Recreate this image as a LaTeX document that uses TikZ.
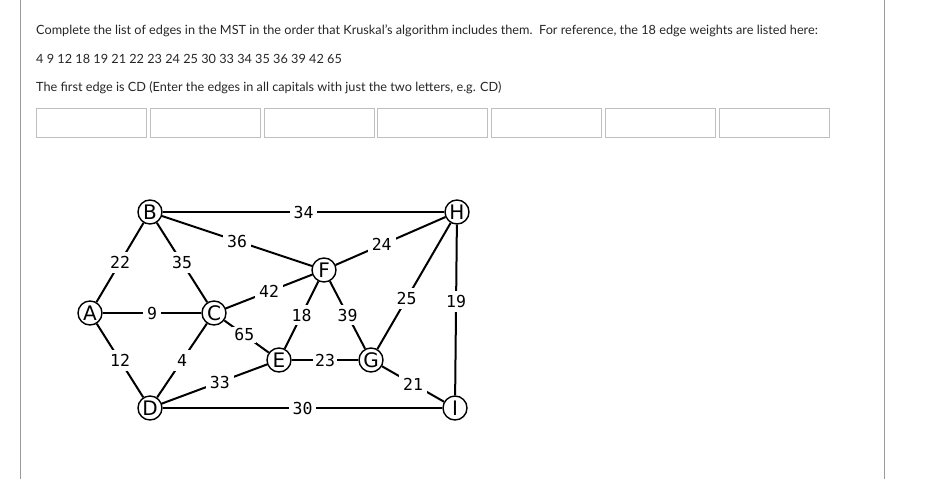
\documentclass[tikz,border=0pt]{standalone}
\usepackage{fontspec}
\setmainfont{Lato}
\newfontfamily\monof{DejaVu Sans Mono}
\newfontfamily\nodef{DejaVu Sans}
\begin{document}
\begin{tikzpicture}[x=1pt,y=-1pt,
  vert/.style={circle,draw,line width=1.4pt,minimum size=24pt,inner sep=0pt,font=\nodef\fontsize{20}{20}\selectfont,fill=white},
  lbl/.style={fill=white,inner sep=4pt,font=\monof\fontsize{16.5}{16.5}\selectfont},
  edge/.style={line width=2pt},
  ans/.style={draw=black!25,line width=0.8pt,minimum width=110pt,minimum height=29pt,inner sep=0pt},
  txt/.style={anchor=west,inner sep=0pt,font=\fontsize{12.7}{13}\selectfont,text=black!85}]
\useasboundingbox (0,0) rectangle (936,479);
\draw[black!40,line width=0.8pt] (20,0) -- (20,479);
\draw[black!40,line width=0.8pt] (884,0) -- (884,479);
\node[txt] (t1) at (36,31) {Complete the list of edges in the MST in the order that Kruskal's algorithm includes them.\ \ For reference, the 18 edge weights are listed here:};
\node[txt] (t2) at (36,59) {4 9 12 18 19 21 22 23 24 25 30 33 34 35 36 39 42 65};
\node[txt] (t3) at (36,88) {The first edge is CD (Enter the edges in all capitals with just the two letters, e.g. CD)};
\foreach \i/\x in {1/91.5,2/205.5,3/319.5,4/432.5,5/546.5,6/660.5,7/774}
  \node[ans] (box\i) at (\x,123) {};
\node[vert] (B) at (150,212) {B};
\node[vert] (H) at (457,212) {H};
\node[vert] (A) at (90,313) {A};
\node[vert] (C) at (214,313) {C};
\node[vert] (F) at (324,270) {F};
\node[vert] (E) at (279,360) {E};
\node[vert] (G) at (371,360) {G};
\node[vert] (D) at (150,408) {D};
\node[vert] (I) at (455,408) {I};
\draw[edge] (B) -- node[lbl,pos=0.5]{34} (H);
\draw[edge] (B) -- node[lbl,pos=0.5]{36} (F);
\draw[edge] (F) -- node[lbl,pos=0.42]{24} (H);
\draw[edge] (A) -- node[lbl,pos=0.5]{22} (B);
\draw[edge] (B) -- node[lbl,pos=0.5]{35} (C);
\draw[edge] (C) -- node[lbl,pos=0.5]{42} (F);
\draw[edge] (A) -- node[lbl,pos=0.5]{9} (C);
\draw[edge] (E) -- node[lbl,pos=0.5]{18} (F);
\draw[edge] (F) -- node[lbl,pos=0.5]{39} (G);
\draw[edge] (G) -- node[lbl,pos=0.4]{25} (H);
\draw[edge] (H) -- node[lbl,pos=0.45]{19} (I);
\draw[edge] (C) -- node[lbl,pos=0.45,inner sep=2pt]{65} (E);
\draw[edge] (A) -- node[lbl,pos=0.5]{12} (D);
\draw[edge] (C) -- node[lbl,pos=0.5]{4} (D);
\draw[edge] (E) -- node[lbl,pos=0.5,inner sep=2pt]{23} (G);
\draw[edge] (D) -- node[lbl,pos=0.55]{33} (E);
\draw[edge] (G) -- node[lbl,pos=0.5]{21} (I);
\draw[edge] (D) -- node[lbl,pos=0.5]{30} (I);
\end{tikzpicture}
\end{document}
